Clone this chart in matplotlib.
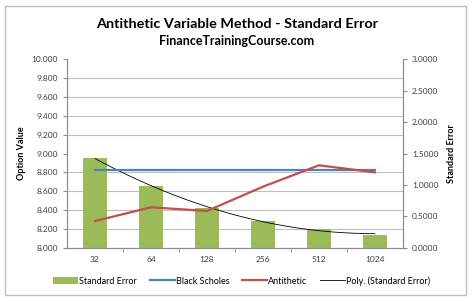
import matplotlib.pyplot as plt
import numpy as np

plt.rcParams['font.family'] = ['Lato', 'DejaVu Sans']

# data
simulations = ['32', '64', '128', '256', '512', '1024']
std_error = [1.43, 0.98, 0.63, 0.43, 0.29, 0.21]
black_scholes = [8.82, 8.82, 8.82, 8.82, 8.82, 8.82]
antithetic = [8.283, 8.429, 8.39, 8.648, 8.875, 8.80]

green = '#9BBB59'
blue = '#4F81BD'
red = '#C0504D'
grey = '#8C8C8C'

fig = plt.figure(figsize=(4.74, 3.02), dpi=100)
fig.patches.append(plt.Rectangle((5/474, 7/302), 461/474, 289/302, transform=fig.transFigure,
                                 fill=False, edgecolor='#BFBFBF', linewidth=1))

ax = fig.add_axes([0.1414, 0.1798, 0.7086, 0.6238])
ax2 = ax.twinx()
ax.set_zorder(2)
ax.patch.set_visible(False)
ax2.set_zorder(1)

x = np.arange(len(simulations))

# bars + trendline on the secondary axis
ax2.bar(x, std_error, width=0.42, color=green, zorder=2, label='Standard Error')
coef = np.polyfit(x + 1, std_error, 2)
xs = np.linspace(0, len(x) - 1, 200)
ax2.plot(xs, np.polyval(coef, xs + 1), color='black', linewidth=0.6, zorder=3,
         label='Poly. (Standard Error)')
ax2.set_ylim(0, 3)
ax2.set_yticks(np.arange(0, 3.01, 0.5))
ax2.set_yticklabels([f'{v:.4f}' for v in np.arange(0, 3.01, 0.5)])
ax2.set_yticks(np.arange(0, 3.01, 0.3), minor=True)
ax2.grid(which='minor', axis='y', color='#BFBFBF', linewidth=0.8, zorder=0)
ax2.tick_params(axis='y', which='minor', length=0)
ax2.set_ylabel('Standard Error', fontsize=6.5, fontweight='bold', labelpad=6)

# lines on the primary axis
ax.plot(x, black_scholes, color=blue, linewidth=1.6, label='Black Scholes')
ax.plot(x, antithetic, color=red, linewidth=1.6, label='Antithetic')
ax.set_ylim(8, 10)
ax.set_yticks(np.arange(8, 10.01, 0.2))
ax.set_yticklabels([f'{v:.3f}' for v in np.arange(8, 10.01, 0.2)])
ax.set_ylabel('Option Value', fontsize=6.5, fontweight='bold', labelpad=4)
ax.set_xlim(-0.5, len(x) - 0.5)
ax.set_xticks(x)
ax.set_xticklabels(simulations)
ax.set_xticks(np.arange(0.5, len(x) - 0.5, 1), minor=True)
ax.tick_params(axis='x', which='major', length=0, pad=6)
ax.tick_params(axis='x', which='minor', length=3, color=grey)

for a in (ax, ax2):
    a.tick_params(axis='both', labelsize=6, colors='#404040')
    a.tick_params(axis='y', which='major', length=3, color=grey)
    for s in a.spines.values():
        s.set_color(grey)
        s.set_linewidth(0.8)
    a.spines['top'].set_visible(False)

fig.text(0.5, 0.922, 'Antithetic Variable Method - Standard Error', ha='center', va='center',
         fontsize=10.4, fontweight='bold')
fig.text(0.5, 0.863, 'FinanceTrainingCourse.com', ha='center', va='center',
         fontsize=9, fontweight='bold')

h1, l1 = ax2.get_legend_handles_labels()
h0, l0 = ax.get_legend_handles_labels()
handles = [h1[1], h0[0], h0[1], h1[0]]
labels = [l1[1], l0[0], l0[1], l1[0]]
fig.legend(handles, labels, loc='center', bbox_to_anchor=(0.51, 0.07), ncol=4, frameon=False,
           fontsize=6.5, handlelength=2.8, handletextpad=0.1, columnspacing=1.4)

fig.savefig('out.png', dpi=100)
